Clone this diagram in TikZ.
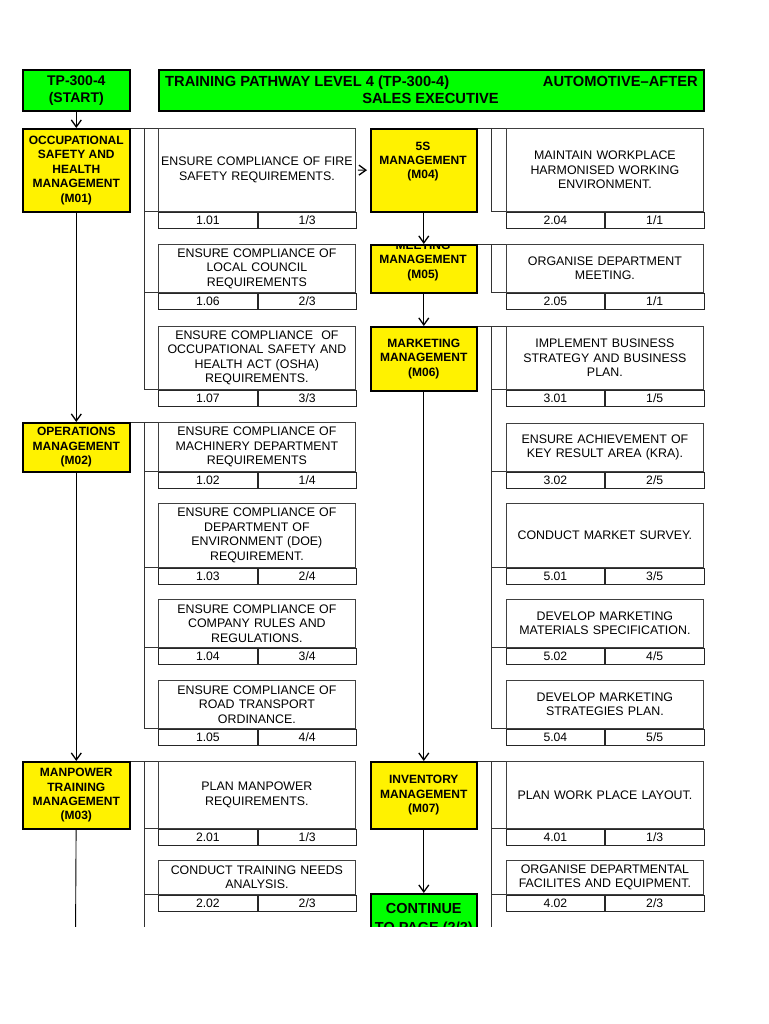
\documentclass[tikz,border=0pt]{standalone}
\usepackage{fontspec}
\setmainfont{Liberation Sans}
\usepackage{tikz}
\usetikzlibrary{arrows.meta,calc}

\begin{document}
\begin{tikzpicture}[x=1pt,y=1pt,
  mgmt/.style={draw,line width=1.6pt,fill=yellow,align=center,anchor=north west,inner sep=1pt,font=\bfseries\fontsize{12}{14.4}\selectfont},
  gobox/.style={draw,line width=1.6pt,fill=green,align=center,anchor=north west,inner sep=1pt,font=\bfseries\fontsize{14}{17}\selectfont},
  titletext/.style={inner sep=0pt,font=\bfseries\fontsize{14.7}{17}\selectfont},
  task/.style={draw=black!75,line width=0.8pt,align=center,anchor=north west,text width=192pt,minimum width=197pt,inner sep=1pt,font=\fontsize{12.4}{14.5}\selectfont},
  code/.style={draw=black!85,line width=0.8pt,anchor=north west,minimum height=16pt,inner sep=0pt,font=\fontsize{12.2}{14}\selectfont},
  link/.style={draw=black!80,line width=0.8pt},
  arr/.style={line width=0.9pt,-{Straight Barb[length=7pt,width=10pt,line width=1.3pt]}}]

\useasboundingbox (0,0) rectangle (768,-1024);
\clip (0,0) rectangle (768,-926);

% header
\node[gobox,minimum width=107pt,minimum height=41pt] (start) at (22,-69) {TP-300-4\\(START)};
\node[gobox,minimum width=545pt,minimum height=41pt] (title) at (158,-69) {};
\node[titletext,anchor=base west] (titleA) at (165,-86.3) {TRAINING PATHWAY LEVEL 4 (TP-300-4)};
\node[titletext,anchor=base east] (titleB) at (698,-86.3) {AUTOMOTIVE–AFTER};
\node[titletext,anchor=base] (titleC) at (430.5,-103.3) {SALES EXECUTIVE};

% left column modules
\node[mgmt,minimum width=107pt,minimum height=83pt] (m01) at (22,-128) {OCCUPATIONAL\\SAFETY AND\\HEALTH\\MANAGEMENT\\(M01)};
\node[mgmt,minimum width=107pt,minimum height=49pt] (m02) at (22,-422) {OPERATIONS\\MANAGEMENT\\(M02)};
\node[mgmt,minimum width=107pt,minimum height=67pt] (m03) at (22,-761) {MANPOWER\\TRAINING\\MANAGEMENT\\(M03)};

% right column modules
\node[mgmt,minimum width=106pt,minimum height=83pt] (m04) at (370,-128) {};
\node[font=\bfseries\fontsize{12}{14.4}\selectfont,align=center] (m04txt) at (423,-161.5) {5S\\MANAGEMENT\\(M04)};
\node[mgmt,minimum width=106pt,minimum height=48pt] (m05) at (370,-244) {};
\begin{scope}
\clip (m05.south west) rectangle (m05.north east);
\node[font=\bfseries\fontsize{12}{14.4}\selectfont,align=center] (m05txt) at (423,-261) {MEETING\\MANAGEMENT\\(M05)};
\end{scope}
\node[mgmt,minimum width=106pt,minimum height=64pt] (m06) at (370,-326) {MARKETING\\MANAGEMENT\\(M06)};
\node[mgmt,minimum width=106pt,minimum height=67pt] (m07) at (370,-761) {INVENTORY\\MANAGEMENT\\(M07)};
\node[gobox,minimum width=106pt,minimum height=52pt,font=\bfseries\fontsize{14.5}{19}\selectfont] (cont) at (370,-893) {CONTINUE\\TO PAGE (2/2)};

% left tasks
\node[task,minimum height=83pt] (t101) at (158,-128) {ENSURE COMPLIANCE OF FIRE\\SAFETY REQUIREMENTS.};
\node[code,minimum width=99pt] (c101) at (t101.south west) {1.01};
\node[code,minimum width=98pt] (f101) at (c101.north east) {1/3};
\node[task,minimum height=48pt] (t106) at (158,-244) {ENSURE COMPLIANCE OF\\LOCAL COUNCIL\\REQUIREMENTS};
\node[code,minimum width=99pt] (c106) at (t106.south west) {1.06};
\node[code,minimum width=98pt] (f106) at (c106.north east) {2/3};
\node[task,minimum height=63pt] (t107) at (158,-326) {ENSURE COMPLIANCE\ \ OF\\OCCUPATIONAL SAFETY AND\\HEALTH ACT (OSHA)\\REQUIREMENTS.};
\node[code,minimum width=99pt] (c107) at (t107.south west) {1.07};
\node[code,minimum width=98pt] (f107) at (c107.north east) {3/3};
\node[task,minimum height=49pt] (t102) at (158,-422) {ENSURE COMPLIANCE OF\\MACHINERY DEPARTMENT\\REQUIREMENTS};
\node[code,minimum width=99pt] (c102) at (t102.south west) {1.02};
\node[code,minimum width=98pt] (f102) at (c102.north east) {1/4};
\node[task,minimum height=64pt] (t103) at (158,-503) {ENSURE COMPLIANCE OF\\DEPARTMENT OF\\ENVIRONMENT (DOE)\\REQUIREMENT.};
\node[code,minimum width=99pt] (c103) at (t103.south west) {1.03};
\node[code,minimum width=98pt] (f103) at (c103.north east) {2/4};
\node[task,minimum height=48pt] (t104) at (158,-599) {ENSURE COMPLIANCE OF\\COMPANY RULES AND\\REGULATIONS.};
\node[code,minimum width=99pt] (c104) at (t104.south west) {1.04};
\node[code,minimum width=98pt] (f104) at (c104.north east) {3/4};
\node[task,minimum height=48pt] (t105) at (158,-680) {ENSURE COMPLIANCE OF\\ROAD TRANSPORT\\ORDINANCE.};
\node[code,minimum width=99pt] (c105) at (t105.south west) {1.05};
\node[code,minimum width=98pt] (f105) at (c105.north east) {4/4};
\node[task,minimum height=67pt] (t201) at (158,-761) {PLAN MANPOWER\\REQUIREMENTS.};
\node[code,minimum width=99pt] (c201) at (t201.south west) {2.01};
\node[code,minimum width=98pt] (f201) at (c201.north east) {1/3};
\node[task,minimum height=34pt] (t202) at (158,-860) {CONDUCT TRAINING NEEDS\\ANALYSIS.};
\node[code,minimum width=99pt] (c202) at (t202.south west) {2.02};
\node[code,minimum width=98pt] (f202) at (c202.north east) {2/3};

% right tasks
\node[task,minimum height=83pt] (t204) at (506,-128) {MAINTAIN WORKPLACE\\HARMONISED WORKING\\ENVIRONMENT.};
\node[code,minimum width=98pt] (c204) at (t204.south west) {2.04};
\node[code,minimum width=99pt] (f204) at (c204.north east) {1/1};
\node[task,minimum height=48pt] (t205) at (506,-244) {ORGANISE DEPARTMENT\\MEETING.};
\node[code,minimum width=98pt] (c205) at (t205.south west) {2.05};
\node[code,minimum width=99pt] (f205) at (c205.north east) {1/1};
\node[task,minimum height=63pt] (t301) at (506,-326) {IMPLEMENT BUSINESS\\STRATEGY AND BUSINESS\\PLAN.};
\node[code,minimum width=98pt] (c301) at (t301.south west) {3.01};
\node[code,minimum width=99pt] (f301) at (c301.north east) {1/5};
\node[task,minimum height=48pt] (t302) at (506,-423) {ENSURE ACHIEVEMENT OF\\KEY RESULT AREA (KRA).};
\node[code,minimum width=98pt] (c302) at (t302.south west) {3.02};
\node[code,minimum width=99pt] (f302) at (c302.north east) {2/5};
\node[task,minimum height=64pt] (t501) at (506,-503) {CONDUCT MARKET SURVEY.};
\node[code,minimum width=98pt] (c501) at (t501.south west) {5.01};
\node[code,minimum width=99pt] (f501) at (c501.north east) {3/5};
\node[task,minimum height=48pt] (t502) at (506,-599) {DEVELOP MARKETING\\MATERIALS SPECIFICATION.};
\node[code,minimum width=98pt] (c502) at (t502.south west) {5.02};
\node[code,minimum width=99pt] (f502) at (c502.north east) {4/5};
\node[task,minimum height=48pt] (t504) at (506,-680) {DEVELOP MARKETING\\STRATEGIES PLAN.};
\node[code,minimum width=98pt] (c504) at (t504.south west) {5.04};
\node[code,minimum width=99pt] (f504) at (c504.north east) {5/5};
\node[task,minimum height=67pt] (t401) at (506,-761) {PLAN WORK PLACE LAYOUT.};
\node[code,minimum width=98pt] (c401) at (t401.south west) {4.01};
\node[code,minimum width=99pt] (f401) at (c401.north east) {1/3};
\node[task,minimum height=34pt] (t402) at (506,-860) {ORGANISE DEPARTMENTAL\\FACILITES AND EQUIPMENT.};
\node[code,minimum width=98pt] (c402) at (t402.south west) {4.02};
\node[code,minimum width=99pt] (f402) at (c402.north east) {2/3};

% brackets
\coordinate (b1) at (144,-128);
\coordinate (b2) at (144,-422);
\coordinate (b3) at (144,-761);
\coordinate (b3end) at (144,-940);
\coordinate (b4) at (491,-128);
\coordinate (b5) at (491,-244);
\coordinate (b6) at (491,-326);
\coordinate (b7) at (491,-761);
\coordinate (b7end) at (491,-940);
\draw[link] (m01.north east) -- (t101.north west);
\draw[link] (b1) |- (t107.south west);
\draw[link] (t101.south west) -- (t101.south west -| b1);
\draw[link] (t106.south west) -- (t106.south west -| b1);
\draw[link] (m02.north east) -- (t102.north west);
\draw[link] (b2) |- (t105.south west);
\draw[link] (t102.south west) -- (t102.south west -| b2);
\draw[link] (t103.south west) -- (t103.south west -| b2);
\draw[link] (t104.south west) -- (t104.south west -| b2);
\draw[link] (m03.north east) -- (t201.north west);
\draw[link] (b3) -- (b3end);
\draw[link] (t201.south west) -- (t201.south west -| b3);
\draw[link] (t202.south west) -- (t202.south west -| b3);
\draw[link] (m04.north east) -- (t204.north west);
\draw[link] (b4) |- (t204.south west);
\draw[link] (m05.north east) -- (t205.north west);
\draw[link] (b5) |- (t205.south west);
\draw[link] (m06.north east) -- (t301.north west);
\draw[link] (b6) |- (t504.south west);
\draw[link] (t301.south west) -- (t301.south west -| b6);
\draw[link] (t302.south west) -- (t302.south west -| b6);
\draw[link] (t501.south west) -- (t501.south west -| b6);
\draw[link] (t502.south west) -- (t502.south west -| b6);
\draw[link] (m07.north east) -- (t401.north west);
\draw[link] (b7) -- (b7end);
\draw[link] (t401.south west) -- (t401.south west -| b7);
\draw[link] (t402.south west) -- (t402.south west -| b7);

% flow arrows
\coordinate (leftend) at (75.5,-940);
\draw[arr] (start) -- (m01);
\draw[arr] (m01) -- (m02);
\draw[arr] (m02) -- (m03);
\draw[line width=0.9pt] (m03) -- (leftend);
\draw[arr,shorten <=2pt,shorten >=3pt] (t101) -- (m04);
\draw[arr] (m04) -- (m05);
\draw[arr] (m05) -- (m06);
\draw[arr] (m06) -- (m07);
\draw[arr] (m07) -- (cont);
\end{tikzpicture}
\end{document}
